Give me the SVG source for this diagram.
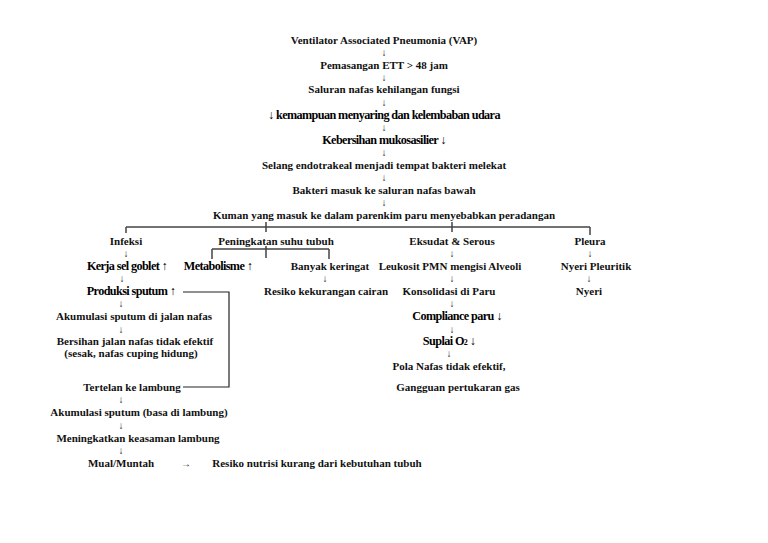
<svg xmlns="http://www.w3.org/2000/svg" width="768" height="543" viewBox="0 0 768 543">
<style>
  .t { font-family: "Liberation Serif", "Times New Roman", serif; font-weight: bold; font-size: 11px; fill: #111; text-anchor: middle; }
  .c { font-family: "Liberation Serif", "Times New Roman", serif; font-weight: bold; font-size: 12.2px; letter-spacing: -0.6px; fill: #000; text-anchor: middle; }
  .a { font-family: "Liberation Serif", "DejaVu Serif", serif; font-size: 10px; fill: #222; text-anchor: middle; }
  .ln { fill: none; stroke: #444; stroke-width: 1.5; }
  .lk { fill: none; stroke: #222; stroke-width: 1.2; }
</style>
<rect width="768" height="543" fill="#fff"/>

<g id="connectors">
  <path class="ln" d="M126 227 H590 M126 227 V233 M266 222 V232 M452 222 V232 M590 227 V235"/>
  <path class="ln" d="M212 249 H329 M212 249 V259 M329 249 V259 M266 246 V258"/>
  <path class="lk" d="M183 292 H229 V387 H183"/>
  <text class="a" x="384" y="56">↓</text>
  <text class="a" x="384" y="81">↓</text>
  <text class="a" x="384" y="106">↓</text>
  <text class="a" x="384" y="131">↓</text>
  <text class="a" x="384" y="156">↓</text>
  <text class="a" x="384" y="181">↓</text>
  <text class="a" x="384" y="206">↓</text>
  <text class="a" x="126" y="257">↓</text>
  <text class="a" x="452" y="257">↓</text>
  <text class="a" x="590" y="257">↓</text>
  <text class="a" x="122" y="282">↓</text>
  <text class="a" x="325" y="282">↓</text>
  <text class="a" x="452" y="282">↓</text>
  <text class="a" x="589" y="282">↓</text>
  <text class="a" x="121" y="307">↓</text>
  <text class="a" x="452" y="307">↓</text>
  <text class="a" x="121" y="333">↓</text>
  <text class="a" x="452" y="333">↓</text>
  <text class="a" x="449" y="357">↓</text>
  <text class="a" x="121" y="403">↓</text>
  <text class="a" x="121" y="429">↓</text>
  <text class="a" x="121" y="454">↓</text>
  <text class="a" x="186" y="467" font-size="12px">→</text>
</g>

<g id="n-vap"><text class="t" x="384" y="44">Ventilator Associated Pneumonia (VAP)</text></g>
<g id="n-ett"><text class="t" x="384" y="69">Pemasangan ETT &gt; 48 jam</text></g>
<g id="n-saluran"><text class="t" x="384" y="93">Saluran nafas kehilangan fungsi</text></g>
<g id="n-kemampuan"><text class="c" x="384" y="119">↓ kemampuan menyaring dan kelembaban udara</text></g>
<g id="n-kebersihan"><text class="c" x="384" y="144">Kebersihan mukosasilier ↓</text></g>
<g id="n-selang"><text class="t" x="384" y="169">Selang endotrakeal menjadi tempat bakteri melekat</text></g>
<g id="n-bakteri"><text class="t" x="384" y="194">Bakteri masuk ke saluran nafas bawah</text></g>
<g id="n-kuman"><text class="t" x="384" y="219">Kuman yang masuk ke dalam parenkim paru menyebabkan peradangan</text></g>

<g id="n-infeksi"><text class="t" x="126" y="245">Infeksi</text></g>
<g id="n-suhu"><text class="t" x="276" y="245">Peningkatan suhu tubuh</text></g>
<g id="n-eksudat"><text class="t" x="452" y="245">Eksudat &amp; Serous</text></g>
<g id="n-pleura"><text class="t" x="590" y="245">Pleura</text></g>

<g id="n-goblet"><text class="c" x="127" y="270">Kerja sel goblet ↑</text></g>
<g id="n-metabolisme"><text class="c" x="218" y="270">Metabolisme ↑</text></g>
<g id="n-keringat"><text class="t" x="330" y="270">Banyak keringat</text></g>
<g id="n-leukosit"><text class="t" x="450" y="270">Leukosit PMN mengisi Alveoli</text></g>
<g id="n-nyeri-pleuritik"><text class="t" x="596" y="270">Nyeri Pleuritik</text></g>

<g id="n-produksi"><text class="c" x="131" y="295">Produksi sputum ↑</text></g>
<g id="n-cairan"><text class="t" x="326" y="295">Resiko kekurangan cairan</text></g>
<g id="n-konsolidasi"><text class="t" x="449" y="295">Konsolidasi di Paru</text></g>
<g id="n-nyeri"><text class="t" x="589" y="295">Nyeri</text></g>

<g id="n-akumulasi1"><text class="t" x="134" y="320">Akumulasi sputum di jalan nafas</text></g>
<g id="n-compliance"><text class="c" x="457" y="320">Compliance paru ↓</text></g>

<g id="n-bersihan"><text class="t" x="135" y="345">Bersihan jalan nafas tidak efektif</text><text class="t" x="131" y="357">(sesak, nafas cuping hidung)</text></g>
<g id="n-suplai"><text class="c" x="449" y="345">Suplai O<tspan font-size="8px">2</tspan> ↓</text></g>
<g id="n-pola"><text class="t" x="449" y="370">Pola Nafas tidak efektif,</text></g>

<g id="n-tertelan"><text class="t" x="132" y="391">Tertelan ke lambung</text></g>
<g id="n-gangguan"><text class="t" x="458" y="391">Gangguan pertukaran gas</text></g>
<g id="n-akumulasi2"><text class="t" x="139" y="416">Akumulasi sputum (basa di lambung)</text></g>
<g id="n-keasaman"><text class="t" x="138" y="442">Meningkatkan keasaman lambung</text></g>
<g id="n-mual"><text class="t" x="121" y="467">Mual/Muntah</text></g>
<g id="n-nutrisi"><text class="t" x="317" y="467">Resiko nutrisi kurang dari kebutuhan tubuh</text></g>
</svg>
